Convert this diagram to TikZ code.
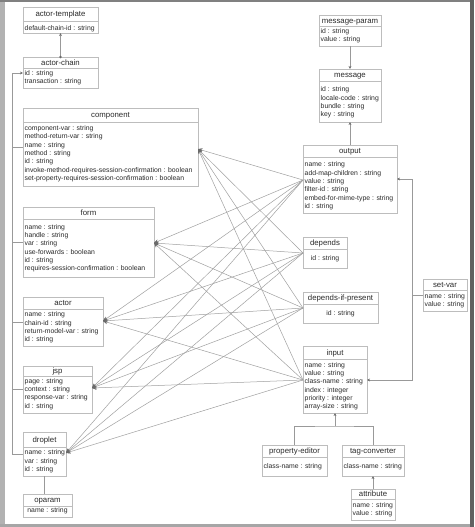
\documentclass[tikz,border=0pt]{standalone}
\usepackage{fontspec}
\setmainfont{Liberation Sans}
\usetikzlibrary{arrows.meta}
\definecolor{boxgray}{HTML}{BDBDBD}
\definecolor{linegray}{HTML}{A0A0A0}
\definecolor{busgray}{HTML}{999999}
\definecolor{tipgray}{HTML}{6A6A6A}
\definecolor{txtgray}{HTML}{2A2A2A}
\tikzset{
 umlframe/.style={draw=boxgray, line width=0.6pt, fill=white, inner sep=0pt, outer sep=0pt, rectangle},
 umlsep/.style={draw=boxgray, line width=0.6pt},
 umltitle/.style={anchor=base, inner sep=0pt, text=txtgray, font=\fontsize{7.8}{9}\selectfont},
 umlrow/.style={anchor=base west, inner sep=0pt, text=txtgray, font=\fontsize{6.85}{8}\selectfont},
 umlrowc/.style={umlrow, anchor=base},
 assoc/.style={draw=linegray, line width=0.5pt, -{Stealth[length=4.5pt,width=4pt,color=tipgray]}},
 bus/.style={draw=busgray, line width=0.6pt},
 tip/.style={-{Stealth[length=3pt,width=2.8pt,color=tipgray]}},
}
\newcommand\umlbox[9]{%
 \pgfmathsetmacro\umlW{#4-#2}\pgfmathsetmacro\umlH{#6-#3}%
 \node[umlframe, minimum width=\umlW pt, minimum height=\umlH pt, anchor=north west] (#1) at (#2,#3) {};
 \draw[umlsep] (#2,#5) -- (#4,#5);
 \node[umltitle] (#1-title) at ({(#2+#4)/2},{(#3+#5)/2+2.8}) {#7};
 \foreach \r [count=\i] in {#8} {\node[umlrow] (#1-row\i) at ({#2+1.5},{#9+(\i-1)*8.3}) {\r};}
}
\newcommand\umlboxc[9]{%
 \pgfmathsetmacro\umlW{#4-#2}\pgfmathsetmacro\umlH{#6-#3}%
 \node[umlframe, minimum width=\umlW pt, minimum height=\umlH pt, anchor=north west] (#1) at (#2,#3) {};
 \draw[umlsep] (#2,#5) -- (#4,#5);
 \node[umltitle] (#1-title) at ({(#2+#4)/2},{(#3+#5)/2+2.8}) {#7};
 \foreach \r [count=\i] in {#8} {\node[umlrowc] (#1-row\i) at ({(#2+#4)/2},{#9+(\i-1)*8.3}) {\r};}
}
\begin{document}
\begin{tikzpicture}[x=1pt,y=-1pt]
\useasboundingbox (0,0) rectangle (474,527);
\fill[white] (0,0) rectangle (474,527);
\fill[black!30] (0,0) rectangle (5,527);
\fill[black!50] (0,0) rectangle (474,2);
\fill[black!35] (0,524) rectangle (474,527);
\fill[black!62] (470,0) rectangle (474,527);

% left column
\umlbox{tmpl}{23}{7}{98}{21}{33}{actor-template}{default-chain-id : string}{30.8}
\umlbox{chain}{23}{57}{98}{68}{88}{actor-chain}{id : string,transaction : string}{75.2}
\umlbox{comp}{23}{108}{198}{122}{186}{component}{component-var : string,method-return-var : string,name : string,method : string,id : string,invoke-method-requires-session-confirmation : boolean,set-property-requires-session-confirmation : boolean}{130.5}
\umlbox{form}{23}{207}{154}{219}{277}{form}{name : string,handle : string,var : string,use-forwards : boolean,id : string,requires-session-confirmation : boolean}{229.2}
\umlbox{actor}{23}{297}{103}{309}{346}{actor}{name : string,chain-id : string,return-model-var : string,id : string}{316.8}
\umlbox{jsp}{23}{366}{92}{376}{413}{jsp}{page : string,context : string,response-var : string,id : string}{383.2}
\umlbox{droplet}{23}{432}{66}{447}{476}{droplet}{name : string,var : string,id : string}{454.8}
\umlboxc{oparam}{23}{494}{72}{506}{517}{oparam}{name : string}{512.5}

% right column
\umlbox{mparam}{319}{15}{381}{26}{46}{message-param}{id : string,value : string}{33.5}
\umlbox{msg}{319}{69}{381}{81}{122}{message}{id : string,locale-code : string,bundle : string,key : string}{91.8}
\umlbox{output}{303}{145}{397}{157}{213}{output}{name : string,add-map-children : string,value : string,filter-id : string,embed-for-mime-type : string,id : string}{166.8}
\umlboxc{depends}{303}{237}{347}{249}{268}{depends}{id : string}{260.8}
\umlboxc{dip}{303}{292}{378}{304}{323}{depends-if-present}{id : string}{315.2}
\umlbox{setvar}{423}{279}{467}{290}{311}{set-var}{name : string,value : string}{298.2}
\umlbox{input}{303}{346}{367}{359}{413}{input}{name : string,value : string,class-name : string,index : integer,priority : integer,array-size : string}{367.2}
\umlbox{propedit}{262}{445}{327}{457}{476}{property-editor}{class-name : string}{468.8}
\umlbox{tagconv}{342}{445}{404}{457}{476}{tag-converter}{class-name : string}{468.8}
\umlbox{attr}{351}{489}{395}{499}{520}{attribute}{name : string,value : string}{507.5}

% crossing associations
\foreach \L/\ly in {comp/149,form/243,actor/321,jsp/388,droplet/453}
  \foreach \R/\ry in {output/180,depends/253,dip/308,input/380}
    \draw[assoc] (\R.west |- 0,\ry) -- (\L.east |- 0,\ly);

% actor-chain -> actor-template
\draw[bus,tip] (chain.north) -- (tmpl.south);
\fill[tipgray] (chain.north) circle (1.3pt);

% left bus
\coordinate (busTop) at (12,73);
\coordinate (busBot) at (12,454);
\draw[bus] (busBot) -- (busTop);
\draw[bus,tip] (busTop) -- (chain.west |- busTop);
\foreach \n/\yy in {comp/147,form/242,actor/322,jsp/389,droplet/454}
  \draw[bus] (busTop |- 0,\yy) -- (\n.west |- 0,\yy);

% droplet - oparam
\draw[bus] (droplet.south) -- (droplet.south |- oparam.north);

% message links
\draw[bus,tip] (mparam.south) -- (msg.north);
\draw[bus,tip] (output.north) -- (msg.south);

% set-var bus
\coordinate (svJ) at (412,295);
\draw[bus] (setvar.west |- svJ) -- (svJ);
\draw[bus,{Stealth[length=3pt,width=2.8pt,color=tipgray]}-{Stealth[length=3pt,width=2.8pt,color=tipgray]}] (output.east |- 0,179) -| (412,380) -- (input.east |- 0,380);

% input tree
\coordinate (treeJ) at (335,426);
\draw[bus,tip] (treeJ) -- (input.south);
\draw[bus] (propedit.north) |- (treeJ) -| (tagconv.north);
\draw[bus,tip] (attr.north) -- (tagconv.south);
\end{tikzpicture}
\end{document}
